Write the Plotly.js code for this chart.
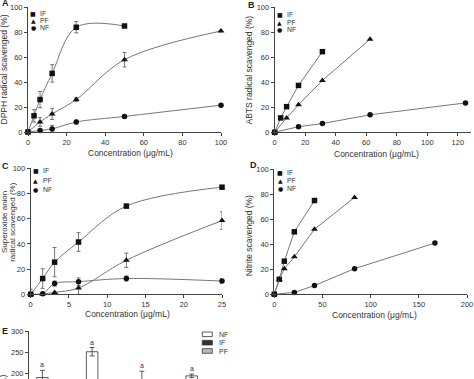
<!DOCTYPE html>
<html><head><meta charset="utf-8">
<script src="https://cdn.plot.ly/plotly-3.0.1.min.js"></script>
<style>html,body{margin:0;padding:0;overflow:hidden;background:#fff;}#chart{width:474px;height:470px;}</style>
</head><body><div id="chart"></div>
<script>
// ---------- DATA ----------
// Panel A: DPPH radical scavenged (%)
const A_IF_x = [0, 3.125, 6.25, 12.5, 25, 50];
const A_IF_y = [0, 13, 26, 47, 84, 85];
const A_IF_e = [0, 5, 6.5, 7, 4.5, 0.5];
const A_PF_x = [0, 6.25, 12.5, 25, 50, 100];
const A_PF_y = [0, 8, 14.5, 26, 58, 81];
const A_PF_e = [0, 3.5, 4.5, 1.5, 5.8, 0.8];
const A_NF_x = [0, 6.25, 12.5, 25, 50, 100];
const A_NF_y = [0, 1.2, 2.5, 8, 12.5, 21.5];
const A_NF_e = [0, 1, 2.8, 1.5, 1, 0.8];
// Panel B: ABTS radical scavenged (%)
const B_IF_x = [0, 3.9, 7.8, 15.6, 31.25];
const B_IF_y = [0, 11.5, 20.5, 37.5, 64.5];
const B_PF_x = [0, 7.8, 15.6, 31.25, 62.5];
const B_PF_y = [0, 11.5, 22, 41.5, 74.5];
const B_NF_x = [0, 15.6, 31.25, 62.5, 125];
const B_NF_y = [0, 4.5, 7, 14, 23.5];
// Panel C: Superoxide anion radical scavenged (%)
const C_x = [0, 1.5625, 3.125, 6.25, 12.5, 25];
const C_IF_y = [0, 12.5, 25.5, 41.5, 70, 85];
const C_IF_e = [4, 7.8, 11.6, 7.4, 1.5, 1];
const C_PF_y = [0, 0.3, 1.5, 5, 27, 58.5];
const C_PF_e = [0, 0, 0, 5.5, 5.7, 7];
const C_NF_y = [0, 0.5, 8.5, 10, 12.5, 10.5];
const C_NF_e = [0, 0, 2, 3, 2, 2];
// Panel D: Nitrite scavenged (%)
const D_IF_x = [0, 5.2, 10.4, 20.8, 41.7];
const D_IF_y = [0, 12, 26.5, 50, 75];
const D_PF_x = [0, 5.2, 10.4, 20.8, 41.7, 83.3];
const D_PF_y = [0, 12, 20.5, 30, 52, 77.5];
const D_NF_x = [0, 20.8, 41.7, 83.3, 166.7];
const D_NF_y = [0, 1.5, 7, 20.5, 41];
// Panel E: bars
const E_cats = ['DPPH', 'ABTS', 'Superoxide', 'Nitrite'];
const E_NF = [190, 251, 175, 194];
const E_NF_e = [17, 10, 30, 4];
const E_IF = [13, 23, 8, 21];
const E_IF_e = [2, 2, 1, 2];
const E_PF = [42, 38, 22, 40];
const E_PF_e = [3, 3, 2, 3];
const E_sig = ['a', 'a', 'a', 'a'];
const seriesNames = ['IF', 'PF', 'NF'];
const legendE = ['NF', 'IF', 'PF'];

// ---------- LAYOUT HELPERS ----------
const W = 474, H = 470;
const px = v => v / W;
const py = v => 1 - v / H;
const FONT = 'Liberation Sans, Arial, sans-serif';
const TXT = '#333';

const lineCol = '#777', mkCol = '#111';
function sc(x, y, e, sym, xa, ya, shape) {
  const t = {
    type: 'scatter', mode: 'lines+markers', x: x, y: y, xaxis: xa, yaxis: ya,
    line: {color: lineCol, width: 1, shape: shape},
    marker: {color: mkCol, size: sym === 'triangle-up' ? 6 : 5.5, symbol: sym},
    cliponaxis: false, showlegend: false, hoverinfo: 'skip'
  };
  if (e) t.error_y = {type: 'data', array: e, visible: true, color: '#555', thickness: 0.8, width: 2};
  return t;
}

const traces = [
  sc(A_IF_x, A_IF_y, A_IF_e, 'square', 'x', 'y', 'spline'),
  sc(A_PF_x, A_PF_y, A_PF_e, 'triangle-up', 'x', 'y', 'spline'),
  sc(A_NF_x, A_NF_y, A_NF_e, 'circle', 'x', 'y', 'spline'),
  sc(B_IF_x, B_IF_y, null, 'square', 'x2', 'y2', 'linear'),
  sc(B_PF_x, B_PF_y, null, 'triangle-up', 'x2', 'y2', 'linear'),
  sc(B_NF_x, B_NF_y, null, 'circle', 'x2', 'y2', 'linear'),
  sc(C_x, C_IF_y, C_IF_e, 'square', 'x3', 'y3', 'spline'),
  sc(C_x, C_PF_y, C_PF_e, 'triangle-up', 'x3', 'y3', 'spline'),
  sc(C_x, C_NF_y, C_NF_e, 'circle', 'x3', 'y3', 'spline'),
  sc(D_IF_x, D_IF_y, null, 'square', 'x4', 'y4', 'linear'),
  sc(D_PF_x, D_PF_y, null, 'triangle-up', 'x4', 'y4', 'linear'),
  sc(D_NF_x, D_NF_y, null, 'circle', 'x4', 'y4', 'linear'),
  {type: 'bar', x: E_cats, y: E_NF, name: 'NF', xaxis: 'x5', yaxis: 'y5',
   marker: {color: '#fff', line: {color: '#333', width: 0.8}},
   error_y: {type: 'data', array: E_NF_e, color: '#333', thickness: 0.8, width: 2.5}, showlegend: false, hoverinfo: 'skip'},
  {type: 'bar', x: E_cats, y: E_IF, name: 'IF', xaxis: 'x5', yaxis: 'y5',
   marker: {color: '#333', line: {color: '#333', width: 0.8}},
   error_y: {type: 'data', array: E_IF_e, color: '#333', thickness: 0.8, width: 2.5}, showlegend: false, hoverinfo: 'skip'},
  {type: 'bar', x: E_cats, y: E_PF, name: 'PF', xaxis: 'x5', yaxis: 'y5',
   marker: {color: '#bbb', line: {color: '#333', width: 0.8}},
   error_y: {type: 'data', array: E_PF_e, color: '#333', thickness: 0.8, width: 2.5}, showlegend: false, hoverinfo: 'skip'}
];

const axBase = {
  showgrid: false, zeroline: false, showline: true, linecolor: '#444', linewidth: 1,
  ticks: 'outside', ticklen: 3, tickwidth: 1, tickcolor: '#444',
  tickfont: {family: FONT, size: 7.5, color: TXT}, automargin: false, fixedrange: true
};
const ax = o => Object.assign({}, axBase, o);

const layout = {
  width: W, height: H, margin: {l: 0, r: 0, t: 0, b: 0},
  paper_bgcolor: '#fff', plot_bgcolor: 'rgba(0,0,0,0)',
  font: {family: FONT, color: TXT}, showlegend: false,
  barmode: 'group', bargap: 0.307, bargroupgap: 0,
  xaxis: ax({domain: [px(28), px(221)], range: [0, 100], dtick: 20, anchor: 'y'}),
  yaxis: ax({domain: [py(132), py(7.3)], range: [0, 100], dtick: 20, anchor: 'x'}),
  xaxis2: ax({domain: [px(274.7), px(471)], range: [0, 128.6], dtick: 20, anchor: 'y2'}),
  yaxis2: ax({domain: [py(132.3), py(7.3)], range: [0, 100], dtick: 20, anchor: 'x2'}),
  xaxis3: ax({domain: [px(30.7), px(222)], range: [0, 25], dtick: 5, anchor: 'y3'}),
  yaxis3: ax({domain: [py(294.3), py(168.3)], range: [0, 100], dtick: 20, anchor: 'x3'}),
  xaxis4: ax({domain: [px(274.3), px(467)], range: [0, 200], dtick: 50, anchor: 'y4'}),
  yaxis4: ax({domain: [py(294.3), py(169.3)], range: [0, 100], dtick: 20, anchor: 'x4'}),
  xaxis5: ax({domain: [px(29), px(228)], type: 'category', anchor: 'y5', ticks: '', showticklabels: false}),
  yaxis5: ax({domain: [py(458), py(331)], range: [0, 300], dtick: 50, anchor: 'x5'}),
  annotations: [], shapes: []
};

const ann = layout.annotations;
function txt(text, x, y, o) {
  ann.push(Object.assign({text: text, x: px(x), y: py(y), xref: 'paper', yref: 'paper',
    showarrow: false, xanchor: 'center', yanchor: 'middle',
    font: {family: FONT, size: 8.5, color: TXT}}, o || {}));
}
// panel letters
[['A', 0, 3.5], ['B', 246, 5], ['C', 0, 166], ['D', 248, 165], ['E', 0, 330.5]].forEach(l =>
  txt('<b>' + l[0] + '</b>', l[1], l[2], {xanchor: 'left', font: {family: FONT, size: 9, color: '#222'}}));
// axis titles
const conc = 'Concentration (μg/mL)';
txt(conc, 130.7, 153.3); txt(conc, 376, 154); txt(conc, 127.8, 314.3); txt(conc, 374, 315);
txt('DPPH radical scavenged (%)', 3.5, 70, {textangle: -90});
txt('ABTS radical scavenged (%)', 248.5, 70, {textangle: -90});
txt('Superoxide anion', 4, 222, {textangle: -90, font: {family: FONT, size: 8, color: TXT}});
txt('radical scavenged (%)', 11.8, 222, {textangle: -90, font: {family: FONT, size: 8, color: TXT}});
txt('Nitrite scavenged (%)', 249.3, 236, {textangle: -90});
txt('IC<sub>50</sub> (μg/mL)', 2.5, 398, {textangle: -90});
// legends A-D
const syms = ['■', '▲', '●'];
function legend(x, ys) {
  seriesNames.forEach((n, i) => {
    txt(syms[i], x, ys[i], {font: {family: 'DejaVu Sans', size: 6, color: mkCol}});
    txt(n, x + 5, ys[i], {xanchor: 'left', font: {family: FONT, size: 6.8, color: TXT}});
  });
}
legend(33.3, [13.3, 20.7, 28]);
legend(279.7, [15, 22.5, 30]);
legend(35.7, [170.7, 180, 189]);
legend(280.3, [172.3, 180, 188.3]);
// legend E
const legFill = {NF: '#fff', IF: '#333', PF: '#bbb'};
legendE.forEach((n, i) => {
  const yc = [334.3, 342.7, 351][i];
  layout.shapes.push({type: 'rect', xref: 'paper', yref: 'paper', x0: px(202.3), x1: px(212.3),
    y0: py(yc + 2.3), y1: py(yc - 2.3), fillcolor: legFill[n], line: {color: '#333', width: 0.8}});
  txt(n, 216.5, yc, {xanchor: 'left', font: {family: FONT, size: 7, color: TXT}});
});
// significance letters
E_cats.forEach((c, i) => {
  ann.push({text: E_sig[i], x: c, y: E_NF[i] + E_NF_e[i], xref: 'x5', yref: 'y5', showarrow: false,
    xanchor: 'center', yanchor: 'bottom', xshift: -11.5, yshift: 0,
    font: {family: FONT, size: 7, color: TXT}});
});

Plotly.newPlot('chart', traces, layout, {staticPlot: true, displayModeBar: false});
</script></body></html>
